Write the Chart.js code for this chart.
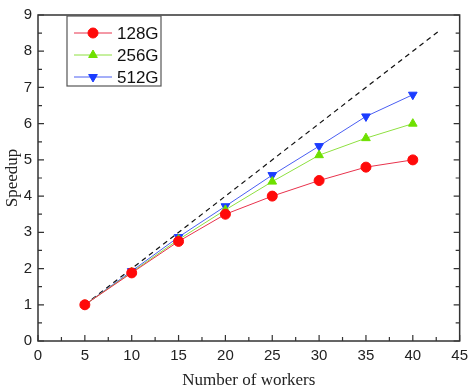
<!DOCTYPE html>
<html>
<head>
<meta charset="utf-8">
<script src="https://cdn.jsdelivr.net/npm/chart.js@4/dist/chart.umd.min.js"></script>
<style>
  html, body { margin: 0; padding: 0; background: #fff; }
  #wrap { width: 474px; height: 391px; position: relative; }
</style>
</head>
<body>
<div id="wrap"><canvas id="c"></canvas></div>
<script>
const workers = [5, 10, 15, 20, 25, 30, 35, 40];
const speedup128 = [1.0, 1.88, 2.75, 3.5, 4.0, 4.43, 4.8, 5.0];
const speedup256 = [1.0, 1.9, 2.8, 3.62, 4.4, 5.13, 5.6, 6.0];
const speedup512 = [1.0, 1.93, 2.87, 3.72, 4.58, 5.38, 6.2, 6.8];
const idealX = [5, 42.7];
const idealY = [1, 8.54];
const seriesLabels = ['128G', '256G', '512G'];

const pts = (xs, ys) => xs.map((x, i) => ({ x, y: ys[i] }));
const AXIS = '#333';

// inward ticks, box frame and the framed legend
const framePlugin = {
  id: 'frame',
  afterDraw(chart) {
    const { ctx, chartArea: a, scales: { x, y } } = chart;
    ctx.save();
    ctx.strokeStyle = AXIS;
    ctx.lineWidth = 1.5;
    ctx.strokeRect(a.left, a.top, a.right - a.left, a.bottom - a.top);
    ctx.lineWidth = 1.2;
    ctx.beginPath();
    for (let v = 0; v <= 45; v += 2.5) {
      const px = x.getPixelForValue(v);
      const len = v % 5 === 0 ? 6 : 4;
      ctx.moveTo(px, a.bottom); ctx.lineTo(px, a.bottom - len);
    }
    for (let v = 0; v <= 9; v += 0.5) {
      const py = y.getPixelForValue(v);
      const len = v % 1 === 0 ? 6 : 4;
      ctx.moveTo(a.left, py); ctx.lineTo(a.left + len, py);
      ctx.moveTo(a.right, py); ctx.lineTo(a.right - len, py);
    }
    ctx.stroke();

    // legend box
    const bx = 67, by = 16, bw = 94, bh = 70;
    ctx.fillStyle = '#fff';
    ctx.fillRect(bx, by, bw, bh);
    ctx.strokeStyle = '#555';
    ctx.lineWidth = 1.2;
    ctx.strokeRect(bx, by, bw, bh);
    ctx.font = '17px "Liberation Sans", Arial, sans-serif';
    ctx.textBaseline = 'middle';
    chart.data.datasets.slice(0, 3).forEach((ds, i) => {
      const cy = by + 17 + i * 22;
      ctx.strokeStyle = ds.borderColor;
      ctx.lineWidth = 1;
      ctx.beginPath(); ctx.moveTo(bx + 7, cy); ctx.lineTo(bx + 45, cy); ctx.stroke();
      ctx.fillStyle = ds.pointBackgroundColor;
      ctx.strokeStyle = ds.pointBackgroundColor;
      Chart.helpers.drawPoint(ctx, {
        pointStyle: ds.pointStyle, radius: 5, rotation: ds.rotation || 0, borderWidth: 1
      }, bx + 26, cy);
      ctx.fillStyle = '#111';
      ctx.fillText(ds.label, bx + 50, cy + 1);
    });
    ctx.restore();
  }
};

const mk = (label, ys, line, mark, style, rot) => ({
  label,
  data: pts(workers, ys),
  borderColor: line,
  borderWidth: 1,
  pointStyle: style,
  rotation: rot,
  pointRadius: 5,
  pointBackgroundColor: mark,
  pointBorderColor: mark,
  pointBorderWidth: 1,
  tension: 0
});

new Chart(document.getElementById('c'), {
  type: 'line',
  data: {
    datasets: [
      mk(seriesLabels[0], speedup128, '#e8324c', '#ff0a0a', 'circle', 0),
      mk(seriesLabels[1], speedup256, '#8ee040', '#6ee000', 'triangle', 0),
      mk(seriesLabels[2], speedup512, '#4a5ef2', '#1b3cff', 'triangle', 180),
      {
        label: 'ideal',
        data: pts(idealX, idealY),
        borderColor: '#111',
        borderWidth: 1.2,
        borderDash: [5, 4],
        pointRadius: 0,
        order: 10
      }
    ]
  },
  options: {
    responsive: true,
    maintainAspectRatio: false,
    animation: false,
    layout: { padding: { top: 11, right: 8, left: 0, bottom: 0 } },
    plugins: { legend: { display: false }, tooltip: { enabled: false } },
    scales: {
      x: {
        type: 'linear', min: 0, max: 45,
        ticks: { stepSize: 5, color: '#222', padding: 6,
          font: { family: '"Liberation Sans", Arial, sans-serif', size: 15 } },
        grid: { display: false, drawTicks: false, tickLength: 0 },
        border: { display: false },
        title: { display: true, text: 'Number of workers', color: '#222',
          font: { family: '"Liberation Serif", "Times New Roman", serif', size: 17 }, padding: { top: 0, bottom: 0 } },
        afterFit: s => { s.height = 50; }
      },
      y: {
        min: 0, max: 9,
        ticks: { stepSize: 1, color: '#222', padding: 6,
          font: { family: '"Liberation Sans", Arial, sans-serif', size: 15 } },
        grid: { display: false, drawTicks: false, tickLength: 0 },
        border: { display: false },
        title: { display: true, text: 'Speedup', color: '#222',
          font: { family: '"Liberation Serif", "Times New Roman", serif', size: 17 }, padding: { top: 2, bottom: 0 } },
        afterFit: s => { s.width = 38; }
      }
    }
  },
  plugins: [framePlugin]
});
</script>
</body>
</html>
